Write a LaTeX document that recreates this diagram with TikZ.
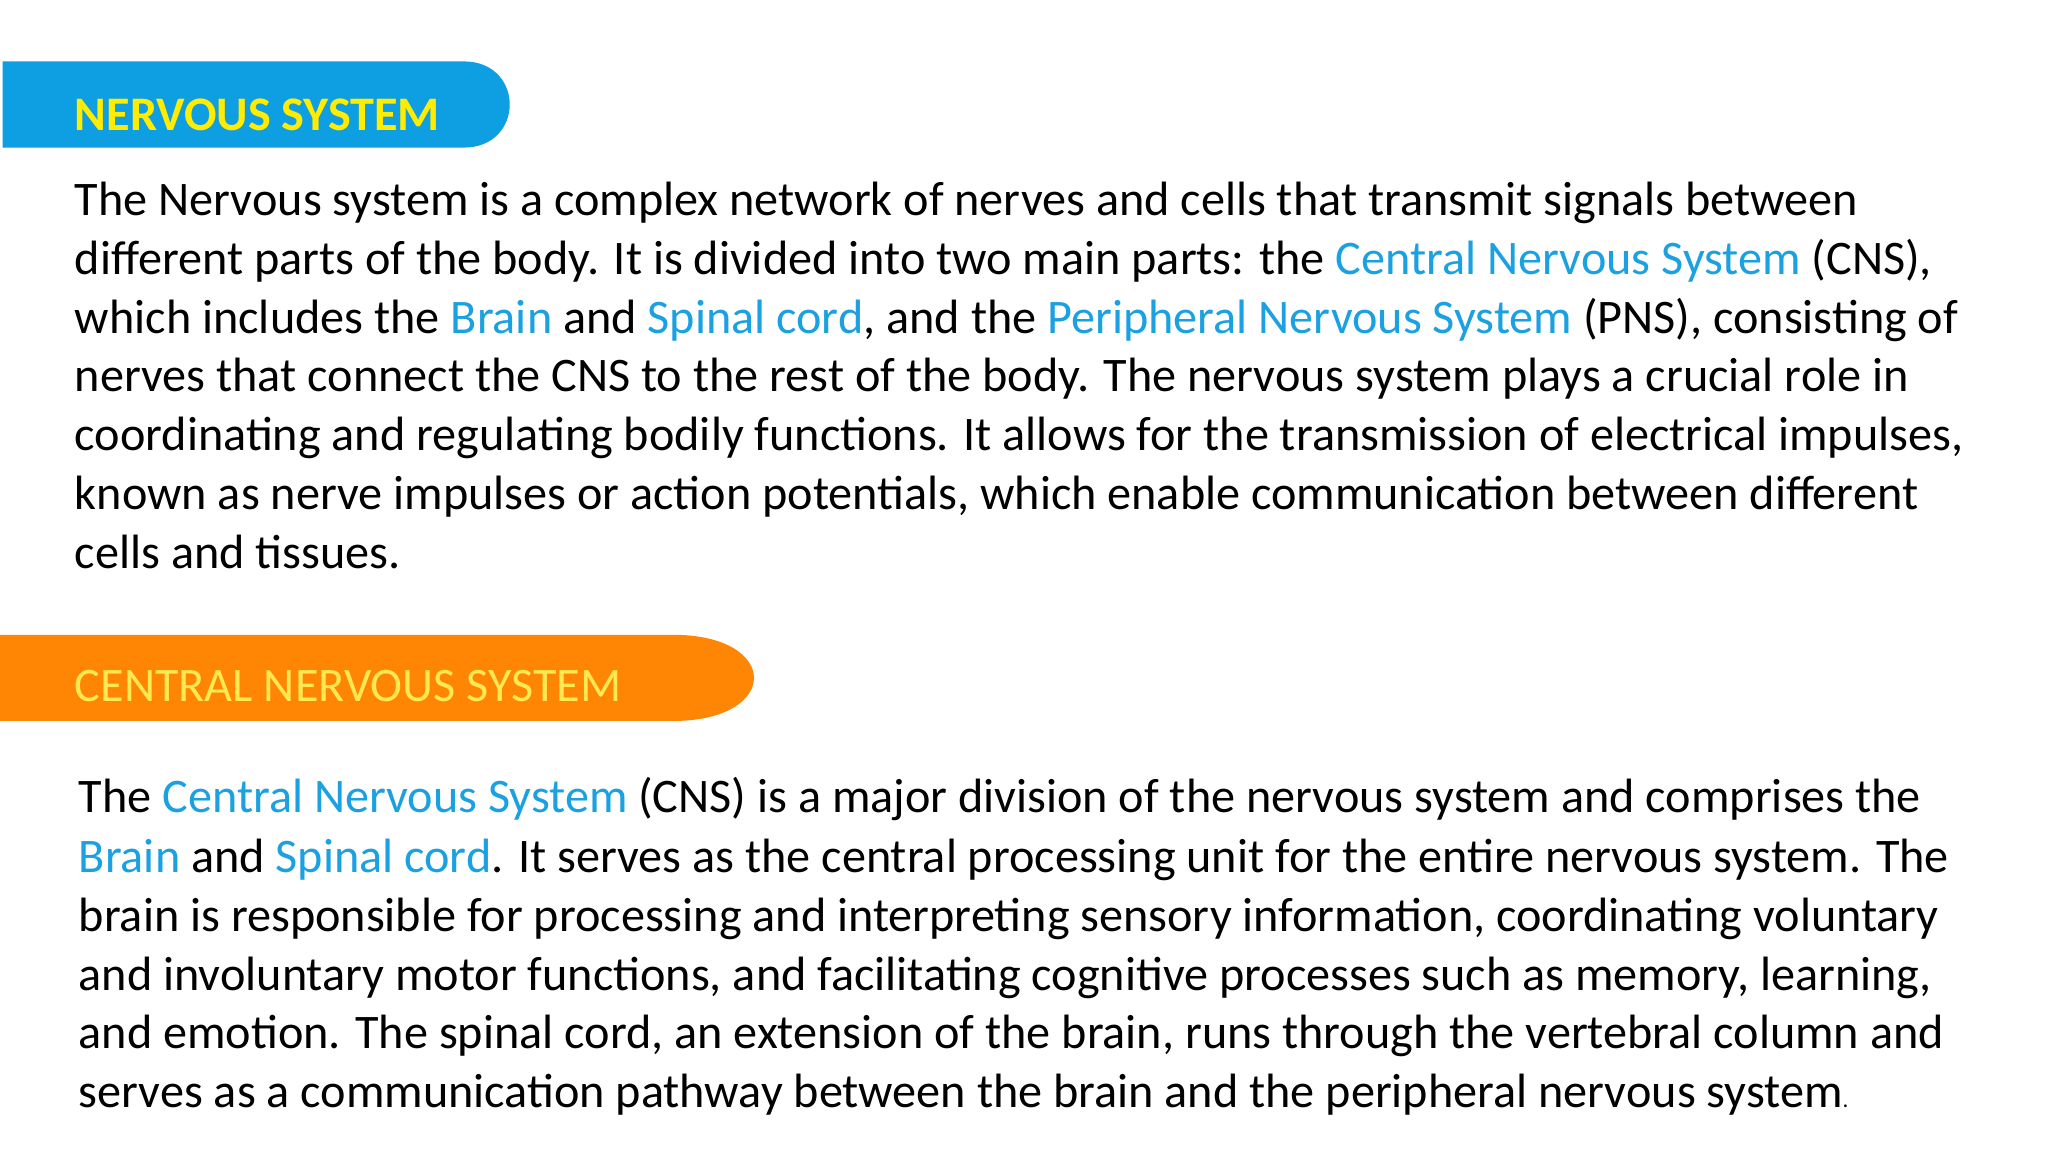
\documentclass[tikz,border=0pt]{standalone}
\usepackage{fontspec}
\setmainfont{Carlito}
\definecolor{hl}{RGB}{27,161,226}
\definecolor{bannerblue}{RGB}{14,158,226}
\definecolor{bannerorange}{RGB}{255,133,5}
\definecolor{ytext}{RGB}{255,236,0}
\definecolor{ytext2}{RGB}{255,232,80}
\newcommand{\hlt}[1]{\textcolor{hl}{#1}}
\tikzset{
  txt/.style={anchor=base west, inner sep=0pt, font=\fontsize{21}{25}\selectfont, text=black},
  btxt/.style={anchor=base west, inner sep=0pt, font=\fontsize{21}{25}\selectfont}
}
\begin{document}
\begin{tikzpicture}[x=0.02cm,y=0.02cm]
\useasboundingbox (0,0) rectangle (1568,-882);
\fill[white] (0,0) rectangle (1568,-882);
\fill[bannerblue] (2,-47) -- (355,-47) .. controls (402,-47) and (402,-113) .. (355,-113) -- (2,-113) -- cycle;
\node[btxt, text=ytext, font=\fontsize{21}{25}\selectfont\bfseries] (h1) at (57,-100) {NERVOUS SYSTEM};
\node[txt] (a1) at (57,-165) {The Nervous system is a complex network of nerves and cells that transmit signals between};
\node[txt] (a2) at (57,-210) {different parts of the body. It is divided into two main parts: the \hlt{Central Nervous System} (CNS),};
\node[txt] (a3) at (57,-255) {which includes the \hlt{Brain} and \hlt{Spinal cord}, and the \hlt{Peripheral Nervous System} (PNS), consisting of};
\node[txt] (a4) at (57,-300) {nerves that connect the CNS to the rest of the body. The nervous system plays a crucial role in};
\node[txt] (a5) at (57,-345) {coordinating and regulating bodily functions. It allows for the transmission of electrical impulses,};
\node[txt] (a6) at (57,-390) {known as nerve impulses or action potentials, which enable communication between different};
\node[txt] (a7) at (57,-435) {cells and tissues.};
\fill[bannerorange] (0,-486) -- (515,-486) .. controls (598,-486) and (598,-552) .. (515,-552) -- (0,-552) -- cycle;
\node[btxt, text=ytext2] (h2) at (57,-537) {CENTRAL NERVOUS SYSTEM};
\node[txt] (b1) at (60,-622) {The \hlt{Central Nervous System} (CNS) is a major division of the nervous system and comprises the};
\node[txt] (b2) at (60,-668) {\hlt{Brain} and \hlt{Spinal cord}. It serves as the central processing unit for the entire nervous system. The};
\node[txt] (b3) at (60,-713) {brain is responsible for processing and interpreting sensory information, coordinating voluntary};
\node[txt] (b4) at (60,-758) {and involuntary motor functions, and facilitating cognitive processes such as memory, learning,};
\node[txt] (b5) at (60,-803) {and emotion. The spinal cord, an extension of the brain, runs through the vertebral column and};
\node[txt] (b6) at (60,-848) {serves as a communication pathway between the brain and the peripheral nervous system{\fontsize{10}{12}\selectfont.}};
\end{tikzpicture}
\end{document}
